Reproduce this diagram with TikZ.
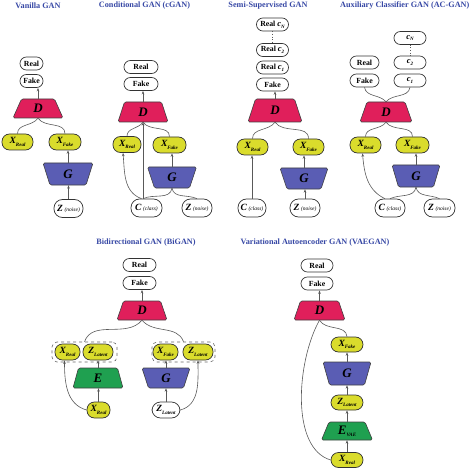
\documentclass[tikz,border=0pt]{standalone}
\usepackage{fontspec}
\setmainfont{Liberation Serif}
\usetikzlibrary{arrows.meta}
\definecolor{dred}{HTML}{E01F5B}
\definecolor{yel}{HTML}{DADC2C}
\definecolor{gblue}{HTML}{5A5DB4}
\definecolor{egreen}{HTML}{1FA050}
\definecolor{tblue}{HTML}{3748A5}
\newcommand{\vfont}{\fontsize{9.5}{10}\selectfont\bfseries\itshape}
\newcommand{\trapfont}{\fontsize{13}{14}\selectfont\bfseries\itshape}
\newcommand{\vs}[2]{#1\raisebox{-2.2pt}{\fontsize{5}{5}\selectfont #2}}
\newcommand{\cl}[1]{{\itshape\fontsize{8.5}{9}\selectfont c}\raisebox{-1.6pt}{\fontsize{5}{5}\selectfont\itshape #1}}
\newcommand{\inp}[2]{#1\,{\fontsize{5.5}{6}\selectfont\mdseries\itshape (#2)}}
\newcommand{\trap}[8]{%
  \path[draw=black!75, line width=0.6pt, rounded corners=1.5pt, fill=#7]
    ({#2-#4},{#3-#6}) -- ({#2+#4},{#3-#6}) -- ({#2+#5},{#3+#6}) -- ({#2-#5},{#3+#6}) -- cycle;
  \node[inner sep=0pt, minimum width=10pt, minimum height={2*#6*1pt}, font=\trapfont] (#1) at (#2,#3) {#8};}
\begin{document}
\begin{tikzpicture}[x=1pt,y=-1pt,
  wbox/.style={draw=black!80, fill=white, rounded corners=6.4pt, line width=0.7pt, inner sep=0pt, minimum height=13pt, font=\fontsize{7.8}{8}\selectfont\bfseries},
  rf/.style={wbox, minimum width=#1pt}, rf/.default=32,
  yb/.style={wbox, fill=yel, minimum width=#1pt, minimum height=16pt, rounded corners=7.5pt, font=\vfont}, yb/.default=32,
  cz/.style={wbox, minimum width=#1pt, minimum height=18pt, rounded corners=8.5pt, font=\vfont}, cz/.default=30,
  dbox/.style={draw=black!60, dashed, rounded corners=5pt, line width=0.6pt, inner sep=0pt},
  con/.style={draw=black!65, line width=0.6pt},
  arr/.style={con, -{Stealth[length=3.5pt,width=2.6pt]}},
  ttl/.style={text=tblue, font=\fontsize{8.2}{9}\selectfont\bfseries, inner sep=0pt}]
\useasboundingbox (0,0) rectangle (474,468);

% ---------- titles
\node[ttl] (t1) at (38,5.5) {Vanilla GAN};
\node[ttl] (t2) at (144.5,5.5) {Conditional GAN (cGAN)};
\node[ttl] (t3) at (268,5.5) {Semi-Supervised GAN};
\node[ttl, anchor=west] (t4) at (340,5.5) {Auxiliary Classifier GAN (AC-GAN)};
\node[ttl] (t5) at (146,243) {Bidirectional GAN (BiGAN)};
\node[ttl] (t6) at (315,243) {Variational Autoencoder GAN (VAEGAN)};

% ---------- Vanilla GAN
\node[rf=23] (real1) at (31.5,63.5) {Real};
\node[rf=23] (fake1) at (31.5,81) {Fake};
\trap{D1}{38}{108.5}{16.5}{25}{9.5}{dred}{D}
\node[yb=31] (xr1) at (17.5,142) {\vs{X}{Real}};
\node[yb=32] (xf1) at (65,142) {\vs{X}{Fake}};
\trap{G1}{68}{174}{25}{18}{11}{gblue}{G}
\node[cz=29] (z1) at (68.5,208.5) {\inp{Z}{noise}};
\draw[arr] (D1.north) -- (D1.north |- fake1.south);
\draw[con] (D1.south) to[out=-125,in=90] (xr1.north);
\draw[con] (D1.south) to[out=-55,in=90] (xf1.north);
\draw[arr] (G1.north) -- (G1.north |- xf1.south);
\draw[arr] (z1.north) -- (z1.north |- G1.south);

% ---------- Conditional GAN
\node[rf=34] (real2) at (141,67) {Real};
\node[rf=34] (fake2) at (141,84) {Fake};
\trap{D2}{143}{112}{18.5}{25}{10}{dred}{D}
\node[yb=28] (xr2) at (127,144.5) {\vs{X}{Real}};
\node[yb=33] (xf2) at (169.5,145) {\vs{X}{Fake}};
\trap{G2}{172}{177.5}{24.5}{17.5}{10.5}{gblue}{G}
\node[cz=31] (c2) at (146.5,208) {\inp{C}{class}};
\node[cz=30] (z2) at (197,208) {\inp{Z}{noise}};
\draw[arr] (D2.north) -- (D2.north |- fake2.south);
\draw[con] (D2.south) to[out=-125,in=90] (xr2.north);
\draw[con] (D2.south) to[out=-55,in=90] (xf2.north);
\draw[arr] (c2.north -| D2.south) -- (D2.south);
\draw[arr] ([xshift=-5pt]c2.north) to[out=160,in=-85] ([xshift=-4pt]xr2.south);
\draw[con] (c2.north -| D2.south) to[out=25,in=-100] (G2.south);
\draw[con] (z2.north) to[out=155,in=-80] (G2.south);
\draw[arr] (G2.north) -- (G2.north |- xf2.south);

% ---------- Semi-Supervised GAN
\node[rf=32] (rcN) at (272.5,24.5) {Real \cl{N}};
\node[rf=32] (rc2) at (272.5,50) {Real \cl{2}};
\node[rf=32] (rc1) at (272.5,67.5) {Real \cl{1}};
\node[rf=32] (fake3) at (272.5,84.5) {Fake};
\trap{D3}{275}{110.5}{19.5}{27}{11.5}{dred}{D}
\node[yb=31] (xr3) at (252.5,147) {\vs{X}{Real}};
\node[yb=31] (xf3) at (308.5,147) {\vs{X}{Fake}};
\trap{G3}{304}{178.5}{24}{17}{10.5}{gblue}{G}
\node[cz=28] (c3) at (252,208) {\inp{C}{class}};
\node[cz=30] (z3) at (305,208) {\inp{Z}{noise}};
\draw[con, dotted] (rcN.south) -- (rc2.north);
\draw[arr] (D3.north) -- (D3.north |- fake3.south);
\draw[con] (D3.south) to[out=-125,in=90] (xr3.north);
\draw[con] (D3.south) to[out=-55,in=90] (xf3.north);
\draw[arr] (c3.north) -- (c3.north |- xr3.south);
\draw[arr] (G3.north) -- (G3.north |- xf3.south);
\draw[arr] (z3.north) -- (z3.north |- G3.south);

% ---------- AC-GAN
\node[rf=32] (cN4) at (410,38) {\cl{N}};
\node[rf=32] (c24) at (410,62.5) {\cl{2}};
\node[rf=32] (c14) at (410,80.5) {\cl{1}};
\node[rf=29] (real4) at (364.5,62.5) {Real};
\node[rf=29] (fake4) at (364.5,80.5) {Fake};
\trap{D4}{386}{112}{19}{26}{10}{dred}{D}
\node[yb=31] (xr4) at (365.5,145) {\vs{X}{Real}};
\node[yb=33] (xf4) at (412.5,145) {\vs{X}{Fake}};
\trap{G4}{416}{176}{24}{17.5}{11}{gblue}{G}
\node[cz=30] (c4) at (390,208) {\inp{C}{class}};
\node[cz=31] (z4) at (439.5,208) {\inp{Z}{noise}};
\draw[con, dotted] (cN4.south) -- (c24.north);
\draw[con] (D4.north) to[out=130,in=-80] (fake4.south);
\draw[con] (D4.north) to[out=50,in=-100] (c14.south);
\draw[con] (D4.south) to[out=-125,in=90] (xr4.north);
\draw[con] (D4.south) to[out=-55,in=90] (xf4.north);
\draw[arr] (G4.north) -- (G4.north |- xf4.south);
\draw[arr] ([xshift=-5pt]c4.north) to[out=155,in=-85] ([xshift=-3pt]xr4.south);
\draw[con] (c4.north) to[out=25,in=-100] (G4.south);
\draw[con] (z4.north) to[out=155,in=-80] (G4.south);

% ---------- BiGAN
\node[rf=33] (real5) at (139.5,265) {Real};
\node[rf=33] (fake5) at (139.5,283) {Fake};
\trap{D5}{142}{310.5}{18.5}{25}{9.5}{dred}{D}
\node[dbox, minimum width=65pt, minimum height=20pt] (lb) at (84.5,352) {};
\node[dbox, minimum width=63pt, minimum height=20pt] (rb) at (183.5,352) {};
\node[yb=25] (xr5a) at (67.5,352) {\vs{X}{Real}};
\node[yb=30] (zl5a) at (98,352) {\vs{Z}{Latent}};
\node[yb=25] (xf5) at (165.5,352) {\vs{X}{Fake}};
\node[yb=30] (zl5b) at (198,352) {\vs{Z}{Latent}};
\trap{E5}{98}{378}{19.5}{25}{10}{egreen}{E}
\trap{G5}{166}{378}{24}{17.5}{10}{gblue}{G}
\node[yb=23] (xr5b) at (98.5,410) {\vs{X}{Real}};
\node[cz=28, minimum height=16pt] (zl5c) at (166,410) {\vs{Z}{Latent}};
\draw[arr] (D5.north) -- (D5.north |- fake5.south);
\draw[con] (D5.south) to[out=-130,in=70] (lb.north);
\draw[con] (D5.south) to[out=-50,in=110] (rb.north);
\draw[arr] (xr5b.north) -- (xr5b.north |- E5.south);
\draw[arr] (E5.north) -- (E5.north |- zl5a.south);
\draw[arr] (xr5b.west) to[out=165,in=-90] ([xshift=-3pt]xr5a.south);
\draw[arr] (zl5c.north) -- (zl5c.north |- G5.south);
\draw[arr] (G5.north) -- (G5.north |- xf5.south);
\draw[arr] (zl5c.east) to[out=15,in=-90] (zl5b.south);

% ---------- VAEGAN
\node[rf=32] (real6) at (317,265.5) {Real};
\node[rf=32] (fake6) at (317,283.5) {Fake};
\trap{D6}{319.5}{310.5}{19}{25.5}{9.5}{dred}{D}
\node[yb=32, minimum height=15pt] (xf6) at (347,344.5) {\vs{X}{Fake}};
\trap{G6}{347}{373.5}{24}{17.5}{11.5}{gblue}{G}
\node[yb=32, minimum height=15pt] (zl6) at (347,402.5) {\vs{Z}{Latent}};
\trap{E6}{347}{431}{18}{25.5}{9}{egreen}{\vs{E}{VAE}}
\node[yb=32, minimum height=15pt] (xr6) at (347,460) {\vs{X}{Real}};
\draw[arr] (D6.north) -- (D6.north |- fake6.south);
\draw[con] (D6.south) to[out=-60,in=95] (xf6.north);
\draw[con] (D6.south) .. controls (297,360) and (290,448) .. (xr6.west);
\draw[arr] (G6.north) -- (G6.north |- xf6.south);
\draw[arr] (zl6.north) -- (zl6.north |- G6.south);
\draw[arr] (E6.north) -- (E6.north |- zl6.south);
\draw[arr] (xr6.north) -- (xr6.north |- E6.south);
\end{tikzpicture}
\end{document}
